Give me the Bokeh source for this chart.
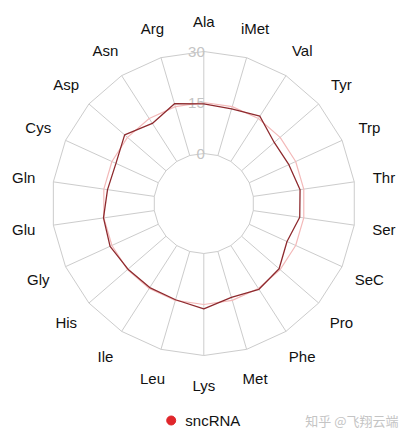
import numpy as np
from bokeh.core.properties import value
from bokeh.embed import file_html
from bokeh.plotting import figure
from bokeh.resources import INLINE

categories = ["Ala", "iMet", "Val", "Tyr", "Trp", "Thr", "Ser", "SeC", "Pro", "Phe", "Met",
              "Lys", "Leu", "Ile", "His", "Gly", "Glu", "Gln", "Cys", "Asp", "Asn", "Arg"]
sncrna = [14.6, 14.3, 15.8, 12.7, 12.8, 13.9, 13.8, 12.2, 14.6, 15.3, 14.1,
          16.3, 14.8, 14.7, 14.8, 15.6, 15.1, 13.9, 13.7, 16.1, 13.3, 15.9]
ticks = [0, 15, 30]
series_name = "sncRNA"

# radial scale: 0 sits on an inner ring, 30 on the outer one
r0 = 50
r_max = 152
scale = (r_max - r0) / 30

n = len(categories)
theta = np.pi / 2 - np.arange(n) * 2 * np.pi / n


def rad(v):
    return r0 + scale * np.asarray(v, dtype=float)


def ring(r):
    xs = list(r * np.cos(theta)) + [r * np.cos(theta[0])]
    ys = list(r * np.sin(theta)) + [r * np.sin(theta[0])]
    return xs, ys


p = figure(width=413, height=441, x_range=(-203.3, 209.7), y_range=(-238, 203),
           output_backend="svg", toolbar_location=None, min_border=0,
           x_axis_location=None, y_axis_location=None)
p.grid.visible = False
p.outline_line_color = None

grid_col = "#cccccc"

# spokes
r_in, r_out = rad(0), rad(30)
p.segment(x0=r_in * np.cos(theta), y0=r_in * np.sin(theta),
          x1=r_out * np.cos(theta), y1=r_out * np.sin(theta),
          line_color=grid_col, line_width=1)

# rings
for t in ticks:
    xs, ys = ring(rad(t))
    if t == 15:
        p.line(xs, ys, line_color="#f3b9b9", line_width=1.2)
    else:
        p.line(xs, ys, line_color=grid_col, line_width=1)

# tick labels along the Ala spoke
p.text(x=[1] * len(ticks), y=list(rad(ticks)), text=[str(t) for t in ticks],
       text_align="right", text_baseline="middle", text_color="#c4c4c4",
       text_font=value("Liberation Sans"), text_font_size="15px")

# data
rv = rad(sncrna)
dx = list(rv * np.cos(theta)) + [rv[0] * np.cos(theta[0])]
dy = list(rv * np.sin(theta)) + [rv[0] * np.sin(theta[0])]
p.line(dx, dy, line_color="#8e2a2e", line_width=1.3)

# category labels
lr = 182
p.text(x=lr * np.cos(theta), y=lr * np.sin(theta), text=categories,
       text_align="center", text_baseline="middle", text_color="#111111",
       text_font=value("Liberation Sans"), text_font_size="15px")

# legend
p.scatter(x=[-32.6], y=[-217], size=9, color="#e0262b")
p.text(x=[-18.5], y=[-217], text=[series_name], text_baseline="middle",
       text_color="#111111", text_font=value("Liberation Sans"), text_font_size="15px")

# watermark
p.text(x=[101.5], y=[-217], text=["知乎 @飞翔云端"], text_baseline="middle",
       text_color="#c4c4c4", text_font=value("Noto Sans CJK SC"), text_font_size="13px")

open("out.html", "w").write(file_html(p, INLINE))
